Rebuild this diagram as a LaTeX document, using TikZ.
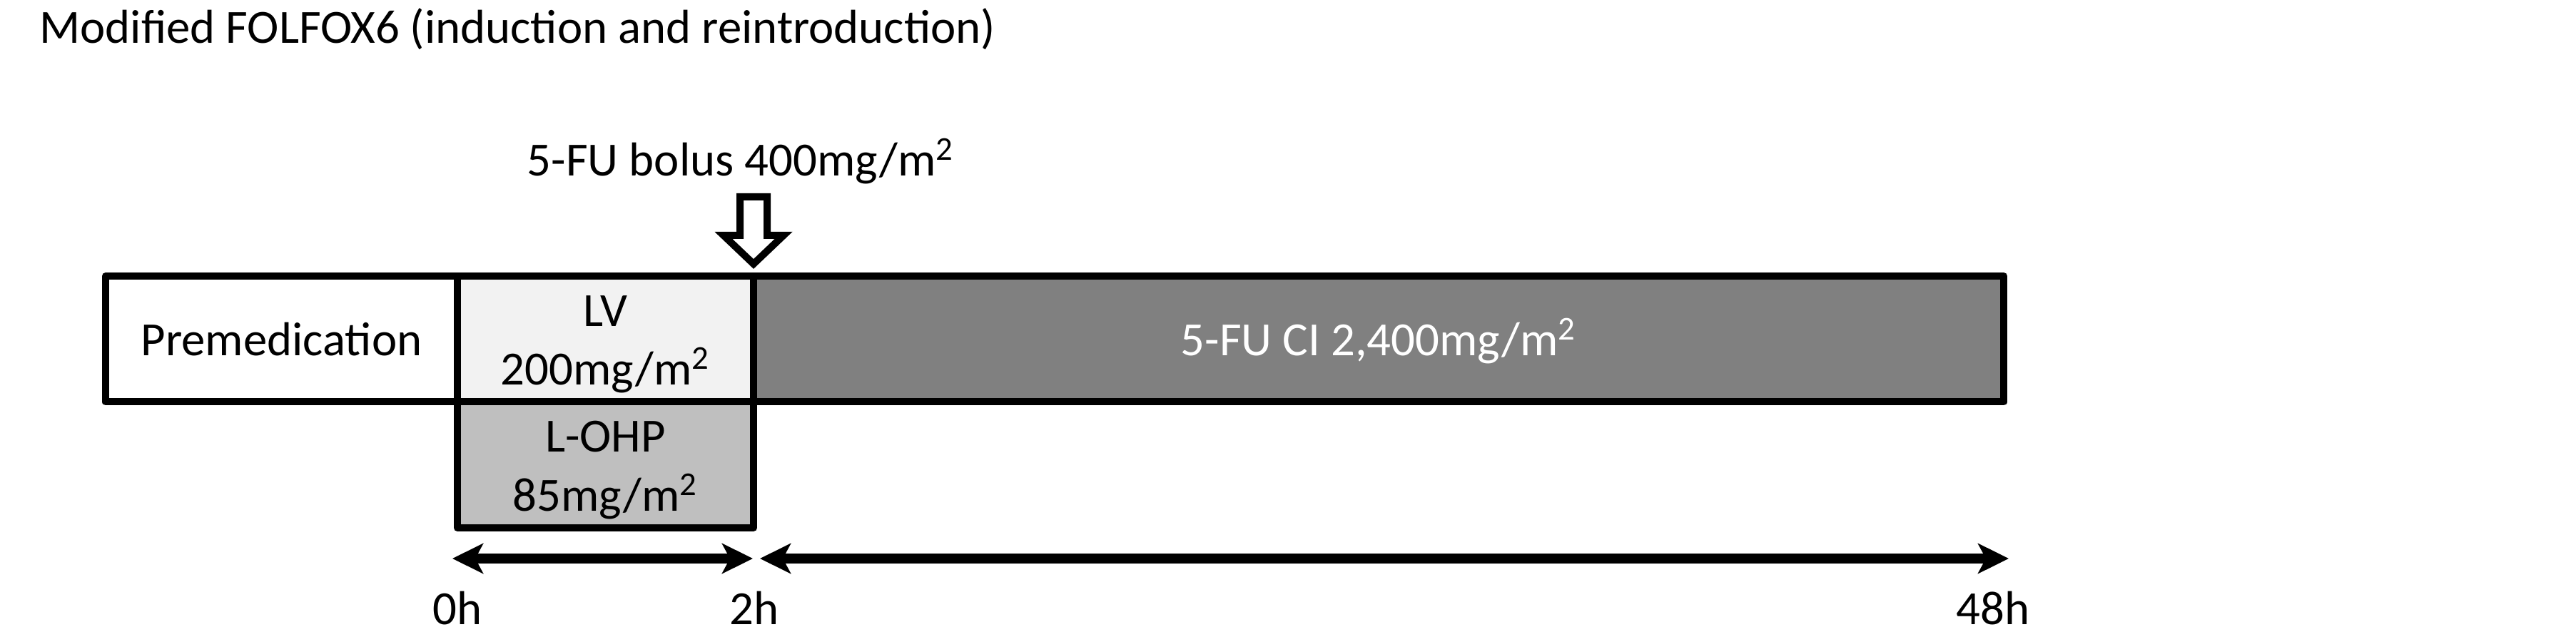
\documentclass[tikz,border=0pt]{standalone}
\usepackage{fontspec}
\setmainfont{Carlito}
\usetikzlibrary{arrows.meta,positioning,calc}
\definecolor{lvgray}{HTML}{F2F2F2}
\definecolor{ohpgray}{HTML}{BFBFBF}
\definecolor{cigray}{HTML}{808080}
\tikzset{>={Stealth[length=4.3mm,width=4.2mm,inset=1.1mm]}, line/.style={line width=1mm, line join=round},
box/.style={draw, line, outer sep=0pt, inner sep=0pt, minimum height=17.65mm, align=center, text height=6.45mm, text depth=1.8mm},
twoline/.style={text height=14.75mm},
span/.style={<->, line width=1.4mm},
tick/.style={anchor=base}}

\begin{document}
\begin{tikzpicture}[x=1mm, y=1mm, font=\fontsize{19pt}{23.6pt}\selectfont]
\useasboundingbox (0,0) rectangle (361,-89.3);
\node[anchor=base west] (title) at (4.3,-6.1) {Modified FOLFOX6 (induction and reintroduction)};

% Boxes
\node[box, minimum width=49.3mm, anchor=north west] (premed) at (14.8,-38.7) {Premedication};
\node[box, twoline, fill=lvgray, minimum width=41.5mm, right=0pt of premed] (lv) {LV\\200mg/m\textsuperscript{2}};
\node[box, fill=cigray, text=white, minimum width=175.2mm, right=0pt of lv] (ci) {5-FU CI 2,400mg/m\textsuperscript{2}};
\node[box, twoline, fill=ohpgray, minimum width=41.5mm, below=0pt of lv] (lohp) {L-OHP\\85mg/m\textsuperscript{2}};

% Bolus
\draw[line, line join=miter, fill=white] ([shift={(-1.9mm,11.1mm)}]lv.north east) -- ++(3.8mm,0) -- ++(0,-5.4mm) -- ++(2.3mm,0) -- ++(-4.2mm,-4mm) -- ++(-4.2mm,4mm) -- ++(2.3mm,0) -- cycle;
\node[anchor=base] (bolus) at ([xshift=-1.8mm,yshift=14mm]lv.north east) {5-FU bolus 400mg/m\textsuperscript{2}};

% Time axis
\coordinate (t0) at ([xshift=-0.7mm,yshift=-4.3mm]lohp.south west);
\coordinate (t2) at ([yshift=-4.3mm]lohp.south east);
\coordinate (t48) at ([xshift=0.7mm]ci.east |- t2);
\draw[span] (t0) -- ([xshift=-0.1mm]t2);
\draw[span] ([xshift=0.9mm]t2) -- (t48);
\node[tick] (h0) at ([xshift=0.7mm,yshift=-9.2mm]t0) {0h};
\node[tick] (h2) at ([xshift=0.1mm,yshift=-9.2mm]t2) {2h};
\node[tick] (h48) at ([xshift=-2.2mm,yshift=-9.2mm]t48) {48h};
\end{tikzpicture}
\end{document}
